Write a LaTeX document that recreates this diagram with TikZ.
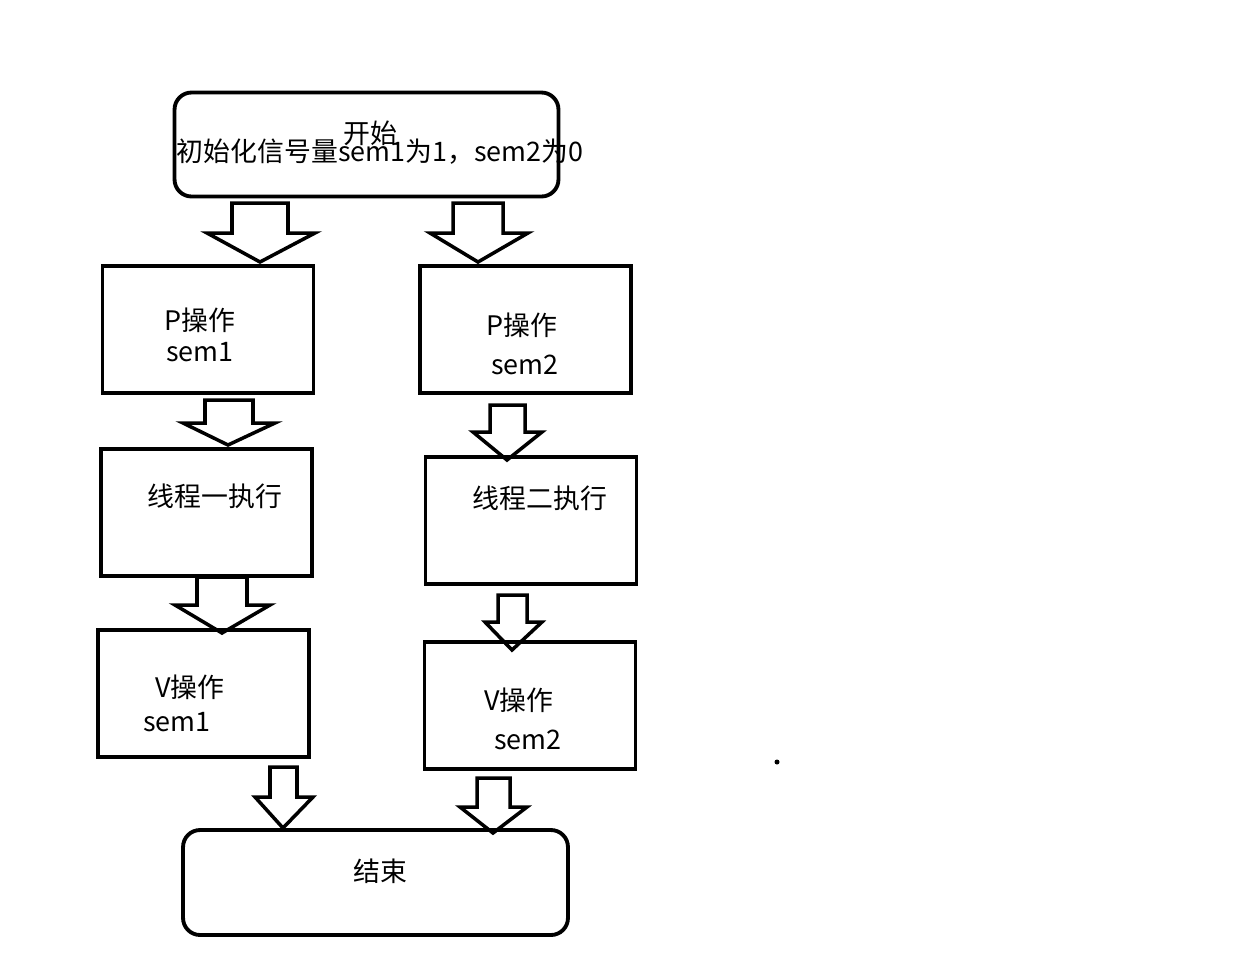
\documentclass[tikz,border=0pt]{standalone}
\usepackage{fontspec}
\setmainfont{Noto Sans CJK SC}
\usetikzlibrary{positioning}

\begin{document}
\begin{tikzpicture}[x=0.02cm, y=-0.02cm,
                    box/.style  ={rectangle, draw=black, line width=2.2pt, minimum width=4.22cm, minimum height=2.54cm, inner sep=0},
                    term/.style ={rectangle, rounded corners=0.34cm, draw=black, line width=2.2pt, minimum width=7.68cm, minimum height=2.08cm, inner sep=0},
                    fat/.style  ={draw=black, line width=2pt, line join=miter},
                    txt/.style  ={inner sep=0, font=\fontsize{15.3}{18}\selectfont}]

      \useasboundingbox (0,0) rectangle (1236,971);

      % boxes
      \node[term]  at(366.5,144.5)  (start) {};
      \node[box]   at(208,329.5)    (p1)    {};
      \node[box]   at(525.5,329.5)  (p2)    {};
      \node[box]   at(206.5,512.5)  (t1)    {};
      \node[box]   at(531,520.5)    (t2)    {};
      \node[box]   at(203.5,693.5)  (v1)    {};
      \node[box]   at(530,705.5)    (v2)    {};
      \node[term, minimum width=7.7cm, minimum height=2.1cm] at(375.5,882.5) (stop) {};
      \node[circle, fill=black, inner sep=0, minimum size=0.1cm] at(777,762) (dot) {};

      % texts
      \node[txt] at(370,133)  (starta) {开始};
      \node[txt] at(380,152)  (startb) {初始化信号量sem1为1，sem2为0};
      \node[txt] at(200,320)  (p1a)    {P操作};
      \node[txt] at(200,352)  (p1b)    {sem1};
      \node[txt] at(522,325)  (p2a)    {P操作};
      \node[txt] at(525,365)  (p2b)    {sem2};
      \node[txt] at(215,496)  (t1a)    {线程一执行};
      \node[txt] at(540,498)  (t2a)    {线程二执行};
      \node[txt] at(190,687)  (v1a)    {V操作};
      \node[txt] at(177,722)  (v1b)    {sem1};
      \node[txt] at(519,700)  (v2a)    {V操作};
      \node[txt] at(528,740)  (v2b)    {sem2};
      \node[txt] at(380,871)  (stopa)  {结束};

      % block arrows
      \path[fat] (232,203) -- (288,203) -- (288,233) -- (315,233) -- (260,262) -- (207,233) -- (232,233) -- cycle;
      \path[fat] (453,203) -- (503,203) -- (503,233) -- (528,233) -- (478,262) -- (430,233) -- (453,233) -- cycle;
      \path[fat] (205,400) -- (253,400) -- (253,423) -- (275,423) -- (228,445) -- (183,423) -- (205,423) -- cycle;
      \path[fat] (490,405) -- (525,405) -- (525,432) -- (542,432) -- (507,460) -- (473,432) -- (490,432) -- cycle;
      \path[fat] (197,577) -- (247,577) -- (247,605) -- (270,605) -- (222,633) -- (175,605) -- (197,605) -- cycle;
      \path[fat] (498,595) -- (527,595) -- (527,622) -- (542,622) -- (512,650) -- (485,622) -- (498,622) -- cycle;
      \path[fat] (270,767) -- (297,767) -- (297,797) -- (313,797) -- (283,828) -- (255,797) -- (270,797) -- cycle;
      \path[fat] (477,778) -- (510,778) -- (510,807) -- (527,807) -- (493,833) -- (460,807) -- (477,807) -- cycle;
    \end{tikzpicture}
\end{document}
